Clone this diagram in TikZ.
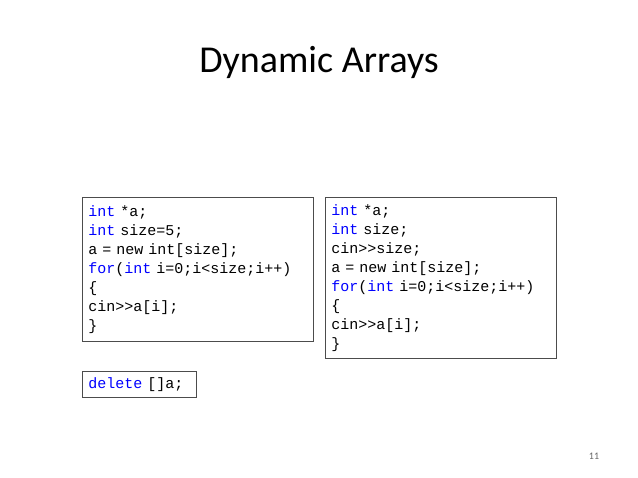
\documentclass[tikz,border=0pt]{standalone}
\usepackage{fontspec}
\setmainfont{Carlito}
\setmonofont{Liberation Mono}
\definecolor{kw}{RGB}{0,0,255}
\newcommand{\kw}[1]{\textcolor{kw}{#1}}
\begin{document}
\begin{tikzpicture}[x=1pt,y=1pt,
  codebox/.style={draw=black!70,line width=0.8pt,anchor=north west,inner xsep=6pt,inner ysep=5pt,align=left,font=\ttfamily\fontsize{15}{19}\selectfont}]
\useasboundingbox (0,0) rectangle (638,478);
\node (title) at (319,416) {\fontsize{38}{44}\selectfont Dynamic Arrays};
\node[codebox,text width=219pt,minimum height=144pt] (b1) at (82,281) {\kw{int} *a;\\\kw{int} size=5;\\a = new int[size];\\\kw{for}(\kw{int} i=0;i<size;i++)\\\{\\cin>>a[i];\\\}};
\node[codebox,text width=219pt,minimum height=161pt] (b2) at (325,281) {\kw{int} *a;\\\kw{int} size;\\cin>>size;\\a = new int[size];\\\kw{for}(\kw{int} i=0;i<size;i++)\\\{\\cin>>a[i];\\\}};
\node[codebox,text width=102pt,minimum height=26pt] (b3) at (82,107) {\kw{delete} []a;};
\node[text=black!60,font=\fontsize{10}{12}\selectfont] (pg) at (594,22) {11};
\end{tikzpicture}
\end{document}
